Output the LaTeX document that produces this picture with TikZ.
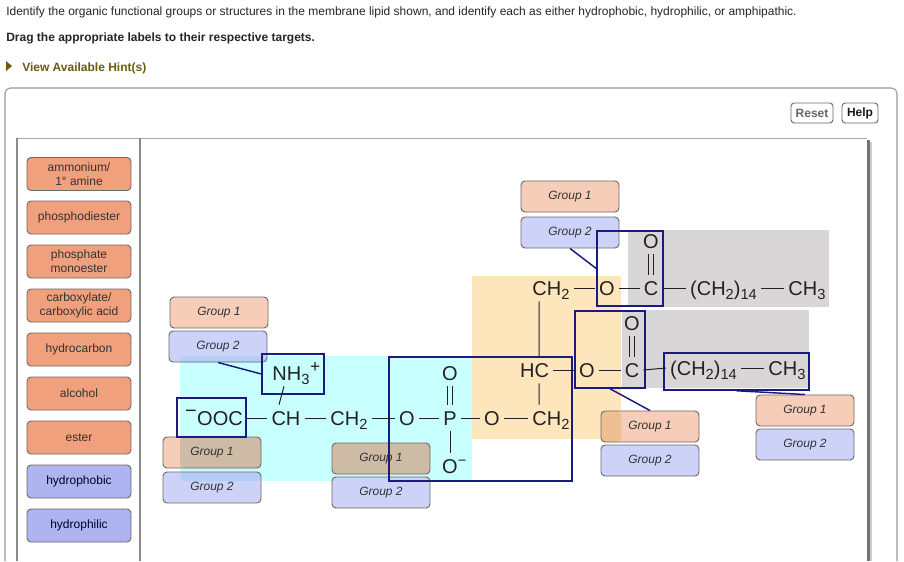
\documentclass[tikz,border=0pt]{standalone}
\usepackage{fontspec}
\setmainfont{Liberation Sans}
\definecolor{peachdk}{HTML}{F0A07C}
\definecolor{bluedk}{HTML}{AEB4F0}
\definecolor{peachlt}{HTML}{F5CDB8}
\definecolor{bluelt}{HTML}{CDD2F8}
\definecolor{tanmix}{HTML}{CDBBA6}
\definecolor{bluemix}{HTML}{B4CCF8}
\definecolor{orgmix}{HTML}{EFBE92}
\definecolor{edgeg}{HTML}{6F6A66}
\definecolor{regcyan}{HTML}{C8FFFF}
\definecolor{regorg}{HTML}{FDE6BC}
\definecolor{reggray}{HTML}{D8D6D6}
\definecolor{navyb}{HTML}{1A1A80}
\definecolor{inkc}{HTML}{222222}
\definecolor{hintc}{HTML}{6B5A10}
\newcommand{\chsub}[1]{\raisebox{-3.6pt}{\fontsize{11}{11}\selectfont #1}}
\tikzset{
  side/.style={draw=edgeg,line width=.7pt,rounded corners=3pt,minimum width=78pt,minimum height=24.75pt,inner sep=0pt,align=center,font=\fontsize{9}{10.5}\selectfont,text=black!80},
  sideo/.style={side,fill=peachdk},
  sideb/.style={side,fill=bluedk,text=black!85!blue},
  grp/.style={draw=edgeg,line width=.7pt,rounded corners=3pt,minimum width=73.5pt,minimum height=23.25pt,inner sep=0pt,font=\fontsize{9}{10.5}\itshape\selectfont,text=black!80},
  grpa/.style={grp,fill=peachlt},
  grpb/.style={grp,fill=bluelt},
  region/.style={draw=none},
  bluebox/.style={draw=navyb,line width=1.1pt,inner sep=0pt,fill=none},
  link/.style={draw=navyb,line width=1.1pt},
  atom/.style={anchor=base,font=\fontsize{15}{15}\selectfont,text=inkc,text height=10.5pt,text depth=0pt,inner ysep=4.5pt,inner xsep=3pt},
  bond/.style={draw=inkc,line width=.75pt},
  btn/.style={draw=edgeg,line width=.7pt,rounded corners=2.5pt,inner sep=0pt,font=\fontsize{9}{10}\bfseries\selectfont},
  panelline/.style={draw=black!40,line width=.8pt}
}
\begin{document}
\begin{tikzpicture}[x=.75pt,y=-.75pt]
\useasboundingbox (0,0) rectangle (904,561);
\fill[white] (0,0) rectangle (904,561);
% header
\node[anchor=base west,inner sep=0pt,font=\fontsize{9}{10}\selectfont,text=black!85] (q1) at (6,15) {Identify the organic functional groups or structures in the membrane lipid shown, and identify each as either hydrophobic, hydrophilic, or amphipathic.};
\node[anchor=base west,inner sep=0pt,font=\fontsize{9}{10}\bfseries\selectfont,text=black!85] (q2) at (6,41) {Drag the appropriate labels to their respective targets.};
\fill[hintc] (6,61) -- (12,66) -- (6,71) -- cycle;
\node[anchor=base west,inner sep=0pt,font=\fontsize{9}{10}\bfseries\selectfont,text=hintc] (hint) at (22,71) {View Available Hint(s)};
% panels
\draw[draw=black!40,line width=.8pt,rounded corners=4pt] (5,561) -- (5,88) -- (897,88) -- (897,561);
\draw[draw=black!35,line width=.7pt] (17,138) -- (867,138);
\draw[draw=black!45,line width=1pt] (17,138) -- (17,561);
\draw[draw=black!45,line width=1.2pt] (140,138) -- (140,561);
\fill[black!55] (867,140) rectangle (870,561);
\fill[black!20] (870,142) rectangle (872,561);
\node[btn,minimum width=31.5pt,minimum height=15pt,text=black!60] (reset) at (812,113) {Reset};
\node[btn,minimum width=27pt,minimum height=15pt,text=black!90] (help) at (860,113) {Help};
% sidebar
\node[sideo] (s1) at (79,174) {ammonium/\\1° amine};
\node[sideo] (s2) at (79,217.5) {phosphodiester};
\node[sideo] (s3) at (79,261.5) {phosphate\\monoester};
\node[sideo] (s4) at (79,305.5) {carboxylate/\\carboxylic acid};
\node[sideo] (s5) at (79,349.5) {hydrocarbon};
\node[sideo] (s6) at (79,393.5) {alcohol};
\node[sideo] (s7) at (79,437.5) {ester};
\node[sideb] (s8) at (79,481.5) {hydrophobic};
\node[sideb] (s9) at (79,525.5) {hydrophilic};
% coloured regions
\fill[regcyan] (180,356) rectangle (472,481);
\fill[regorg] (472,276) rectangle (621,439);
\fill[reggray] (628,230) rectangle (829,307);
\fill[reggray] (622,310) rectangle (809,388);
\fill[white] (622,310) rectangle (645,311);
% target groups
\node[grpa] (a1) at (219,312.5) {Group 1};
\node[grpb,path picture={\fill[bluemix] ([xshift=8.25pt]path picture bounding box.south west) rectangle ([yshift=-19pt]path picture bounding box.north east);}] (a2) at (218,346.5) {Group 2};
\node[grpa,path picture={\fill[tanmix] ([xshift=12.75pt]path picture bounding box.south west) rectangle (path picture bounding box.north east);}] (b1) at (212,452.5) {Group 1};
\node[grpb,path picture={\fill[bluemix] ([xshift=12.75pt,yshift=16.5pt]path picture bounding box.south west) rectangle (path picture bounding box.north east);}] (b2) at (212,487.5) {Group 2};
\node[grp,fill=tanmix] (c1) at (381,458.5) {Group 1};
\node[grpb] (c2) at (381,492.5) {Group 2};
\node[grpa] (d1) at (570,196.5) {Group 1};
\node[grpb] (d2) at (570,232.5) {Group 2};
\node[grpa,path picture={\fill[orgmix] (path picture bounding box.south west) rectangle ([xshift=15pt]path picture bounding box.north west);}] (e1) at (650,426.5) {Group 1};
\node[grpb] (e2) at (650,460.5) {Group 2};
\node[grpa] (f1) at (805,410.5) {Group 1};
\node[grpb] (f2) at (805,444.5) {Group 2};
% outline boxes
\node[bluebox,minimum width=46.5pt,minimum height=30pt] (bnh) at (293,374) {};
\node[bluebox,minimum width=51.75pt,minimum height=29.25pt] (booc) at (211.5,417.5) {};
\node[bluebox,minimum width=137.25pt,minimum height=93pt] (bphos) at (480.5,419) {};
\node[bluebox,minimum width=49.5pt,minimum height=56.25pt] (best1) at (630,268.5) {};
\node[bluebox,minimum width=52.5pt,minimum height=57.75pt] (best2) at (610,349.5) {};
\node[bluebox,minimum width=108.75pt,minimum height=27.75pt] (bhc) at (736.5,371.5) {};
\draw[link] (a2.south) -- (bnh.west);
\draw[link] (d2.south) -- (best1.west);
\draw[link] (best2.south) -- (e1.north);
\draw[link] (bhc.south) -- (f1.north);
% molecule
\node[atom] (nh) at (291,380) {NH\chsub{3}\rlap{\raisebox{6pt}{\hspace{.5pt}\fontsize{13}{13}\selectfont +}}};
\node[atom] (ooc) at (220,425) {\llap{\raisebox{5.5pt}{−}\hspace{.3pt}}OOC};
\node[atom] (ch) at (286,425) {CH};
\node[atom] (cha) at (349,425) {CH\chsub{2}};
\node[atom] (oa) at (407,425) {O};
\node[atom] (p) at (450,425) {P};
\node[atom] (pu) at (450,380) {O};
\node[atom] (pd) at (450,473) {O\rlap{\raisebox{5.5pt}{\fontsize{11}{11}\selectfont −}}};
\node[atom] (ob) at (492,425) {O};
\node[atom] (chl) at (551,425) {CH\chsub{2}};
\node[atom] (hc) at (534.5,377) {HC};
\node[atom] (chu) at (551,295) {CH\chsub{2}};
\node[atom] (ou) at (607,295) {O};
\node[atom] (cu) at (651,295) {C};
\node[atom] (cuo) at (651,248) {O};
\node[atom] (cnu) at (723.5,295) {(CH\chsub{2})\chsub{14}};
\node[atom] (chtu) at (807,295) {CH\chsub{3}};
\node[atom] (om) at (587,377) {O};
\node[atom] (cm) at (632,377) {C};
\node[atom] (cmo) at (632,330) {O};
\node[atom] (cnm) at (703.5,375) {(CH\chsub{2})\chsub{14}};
\node[atom] (chtm) at (787,375) {CH\chsub{3}};
% bonds
\draw[bond] ([xshift=-5.25pt]nh.south) -- ([xshift=-5.25pt]ch.north);
\draw[bond] (ooc.east) -- (ch.west);
\draw[bond] (ch.east) -- (cha.west);
\draw[bond] (cha.east) -- (oa.west);
\draw[bond] (oa.east) -- (p.west);
\draw[bond] (p.east) -- (ob.west);
\draw[bond] (ob.east) -- (chl.west);
\draw[bond] ([xshift=-1.9pt]pu.south) -- ([xshift=-1.9pt]p.north);
\draw[bond] ([xshift=1.9pt]pu.south) -- ([xshift=1.9pt]p.north);
\draw[bond] (p.south) -- (pd.north);
\draw[bond] ([xshift=-9pt]chu.south) -- ([xshift=3.4pt]hc.north);
\draw[bond] ([xshift=3.4pt]hc.south) -- ([xshift=-9pt]chl.north);
\draw[bond] (hc.east) -- (om.west);
\draw[bond] (om.east) -- (cm.west);
\draw[bond] (cm.east) -- (cnm.west);
\draw[bond] ([xshift=-1.9pt]cmo.south) -- ([xshift=-1.9pt]cm.north);
\draw[bond] ([xshift=1.9pt]cmo.south) -- ([xshift=1.9pt]cm.north);
\draw[bond] (cnm.east) -- (chtm.west);
\draw[bond] (chu.east) -- (ou.west);
\draw[bond] (ou.east) -- (cu.west);
\draw[bond] (cu.east) -- (cnu.west);
\draw[bond] ([xshift=-1.9pt]cuo.south) -- ([xshift=-1.9pt]cu.north);
\draw[bond] ([xshift=1.9pt]cuo.south) -- ([xshift=1.9pt]cu.north);
\draw[bond] (cnu.east) -- (chtu.west);
\end{tikzpicture}
\end{document}
